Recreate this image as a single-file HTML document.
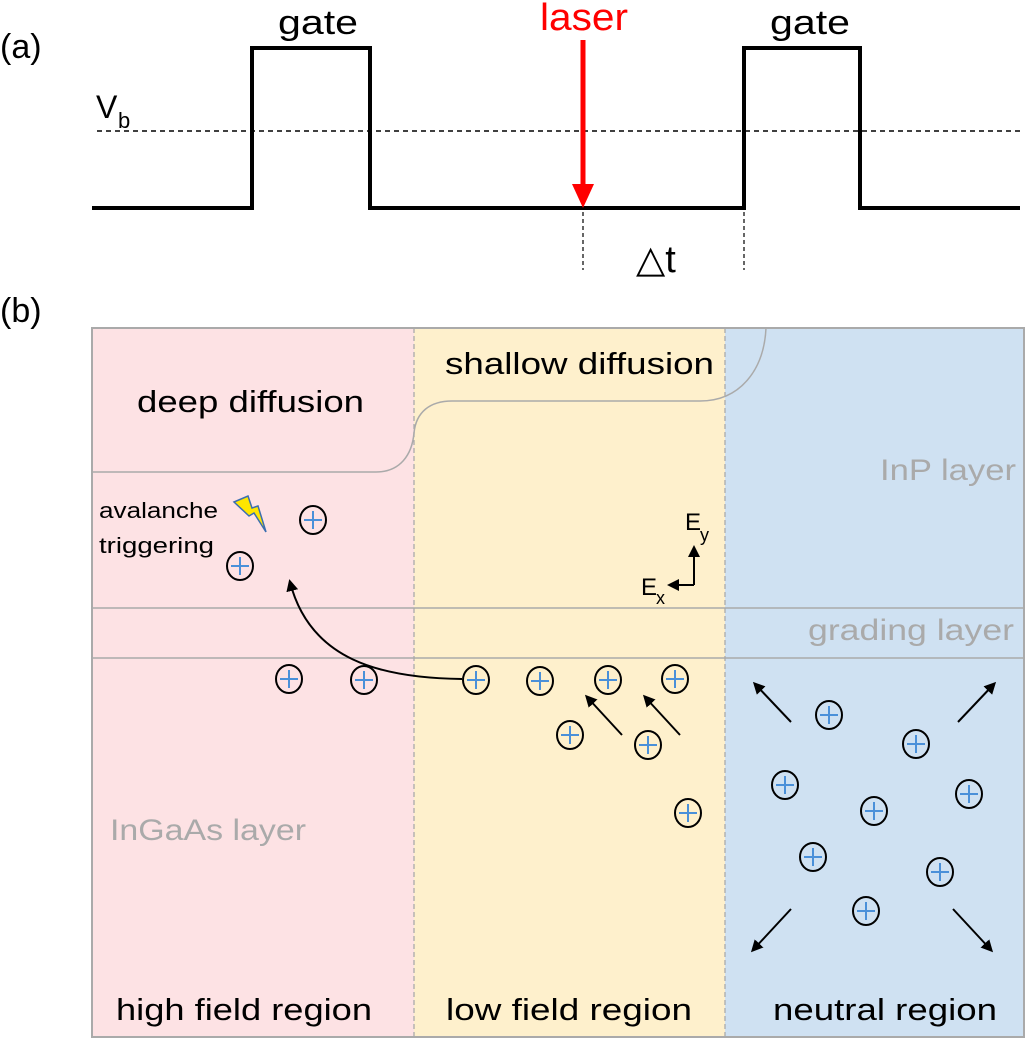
<!DOCTYPE html>
<html><head><meta charset="utf-8"><style>body{margin:0;background:#fff}svg{display:block}text{font-family:"Liberation Sans",sans-serif}</style></head><body>
<svg width="1025" height="1039" viewBox="0 0 1025 1039" xmlns="http://www.w3.org/2000/svg">
<defs>
<marker id="ah" markerWidth="12" markerHeight="12" refX="9" refY="6" orient="auto" markerUnits="userSpaceOnUse"><path d="M0,0 L12,6 L0,12 z" fill="#000"/></marker>
<g id="c"><ellipse cx="0" cy="0" rx="13" ry="14" fill="none" stroke="#000" stroke-width="2"/><path d="M-9,0H9M0,-9V9" stroke="#4a90d9" stroke-width="2"/></g>
</defs>
<text x="0" y="58" font-size="34">(a)</text>
<text x="0" y="322" font-size="34">(b)</text>
<path d="M92,208H252V48H370V208H744V48H860V208H1020" fill="none" stroke="#000" stroke-width="4"/>
<line x1="97" y1="131" x2="1020" y2="131" stroke="#000" stroke-width="1.5" stroke-dasharray="5,4"/>
<text x="96" y="118" font-size="32">V</text><text x="118" y="128" font-size="22">b</text>
<text x="278" y="34" font-size="34" textLength="80" lengthAdjust="spacingAndGlyphs">gate</text>
<text x="770" y="34" font-size="34" textLength="80" lengthAdjust="spacingAndGlyphs">gate</text>
<text x="540" y="30" font-size="38" fill="#f00" textLength="88" lengthAdjust="spacingAndGlyphs">laser</text>
<line x1="583" y1="40" x2="583" y2="188" stroke="#f00" stroke-width="5"/>
<path d="M572,184 L594,184 L583,208 z" fill="#f00"/>
<line x1="583" y1="212" x2="583" y2="270" stroke="#000" stroke-width="1.2" stroke-dasharray="4,3"/>
<line x1="744" y1="212" x2="744" y2="270" stroke="#000" stroke-width="1.2" stroke-dasharray="4,3"/>
<text x="636" y="272" font-size="38">△t</text>
<rect x="92" y="328" width="322" height="709" fill="#fde2e4"/>
<rect x="414" y="328" width="311" height="709" fill="#fef0cc"/>
<rect x="725" y="328" width="299" height="709" fill="#cfe1f2"/>
<rect x="92" y="328" width="932" height="709" fill="none" stroke="#aaa" stroke-width="2"/>
<line x1="414" y1="328" x2="414" y2="1037" stroke="#aaa" stroke-width="1.3" stroke-dasharray="5,3"/>
<line x1="725" y1="328" x2="725" y2="1037" stroke="#aaa" stroke-width="1.3" stroke-dasharray="5,3"/>
<line x1="92" y1="608" x2="1024" y2="608" stroke="#aaa" stroke-width="1.5"/>
<line x1="92" y1="658" x2="1024" y2="658" stroke="#aaa" stroke-width="1.5"/>
<path d="M92,472H376C400,472 412,455 414,433C416,412 430,401 452,401H700C740,401 764,370 766,328" fill="none" stroke="#aaa" stroke-width="1.5"/>
<g lengthAdjust="spacingAndGlyphs">
<text x="137" y="412" font-size="31" textLength="227" lengthAdjust="spacingAndGlyphs">deep diffusion</text>
<text x="445" y="374" font-size="31" textLength="269" lengthAdjust="spacingAndGlyphs">shallow diffusion</text>
<text x="880" y="480" font-size="30" fill="#aaa" textLength="136" lengthAdjust="spacingAndGlyphs">InP layer</text>
<text x="808" y="640" font-size="30" fill="#aaa" textLength="206" lengthAdjust="spacingAndGlyphs">grading layer</text>
<text x="110" y="840" font-size="30" fill="#aaa" textLength="196" lengthAdjust="spacingAndGlyphs">InGaAs layer</text>
<text x="116" y="1020" font-size="31" textLength="256" lengthAdjust="spacingAndGlyphs">high field region</text>
<text x="446" y="1020" font-size="31" textLength="246" lengthAdjust="spacingAndGlyphs">low field region</text>
<text x="773" y="1020" font-size="31" textLength="224" lengthAdjust="spacingAndGlyphs">neutral region</text>
<text x="99" y="518" font-size="22" textLength="119" lengthAdjust="spacingAndGlyphs">avalanche</text>
<text x="99" y="553" font-size="22" textLength="115" lengthAdjust="spacingAndGlyphs">triggering</text>
</g>
<path d="M234,502 L248,496 L252,508 L258,506 L266,532 L254,513 L249,516 z" fill="#ffe600" stroke="#3a6fb0" stroke-width="1.5"/>
<use href="#c" x="313" y="520"/><use href="#c" x="240" y="566"/>
<text x="641" y="595" font-size="24">E</text><text x="656" y="604" font-size="18">x</text>
<text x="685" y="530" font-size="24">E</text><text x="700" y="541" font-size="18">y</text>
<path d="M694,585V548" stroke="#000" stroke-width="2" marker-end="url(#ah)"/>
<path d="M694,585H670" stroke="#000" stroke-width="2" marker-end="url(#ah)"/>
<path d="M462,679C380,678 310,660 290,582" fill="none" stroke="#000" stroke-width="2" marker-end="url(#ah)"/>
<use href="#c" x="289" y="679"/><use href="#c" x="364" y="680"/>
<use href="#c" x="476" y="680"/><use href="#c" x="540" y="681"/><use href="#c" x="608" y="680"/><use href="#c" x="675" y="679"/>
<use href="#c" x="570" y="735"/><use href="#c" x="648" y="745"/><use href="#c" x="688" y="813"/>
<use href="#c" x="829" y="715"/><use href="#c" x="916" y="744"/><use href="#c" x="785" y="785"/><use href="#c" x="874" y="811"/><use href="#c" x="969" y="794"/><use href="#c" x="813" y="857"/><use href="#c" x="940" y="872"/><use href="#c" x="866" y="911"/>
<g stroke="#000" stroke-width="2">
<path d="M622,735L587,697" marker-end="url(#ah)"/>
<path d="M680,735L645,697" marker-end="url(#ah)"/>
<path d="M791,722L755,684" marker-end="url(#ah)"/>
<path d="M958,722L994,684" marker-end="url(#ah)"/>
<path d="M791,909L753,950" marker-end="url(#ah)"/>
<path d="M953,909L991,950" marker-end="url(#ah)"/>
</g>
</svg>
</body></html>
